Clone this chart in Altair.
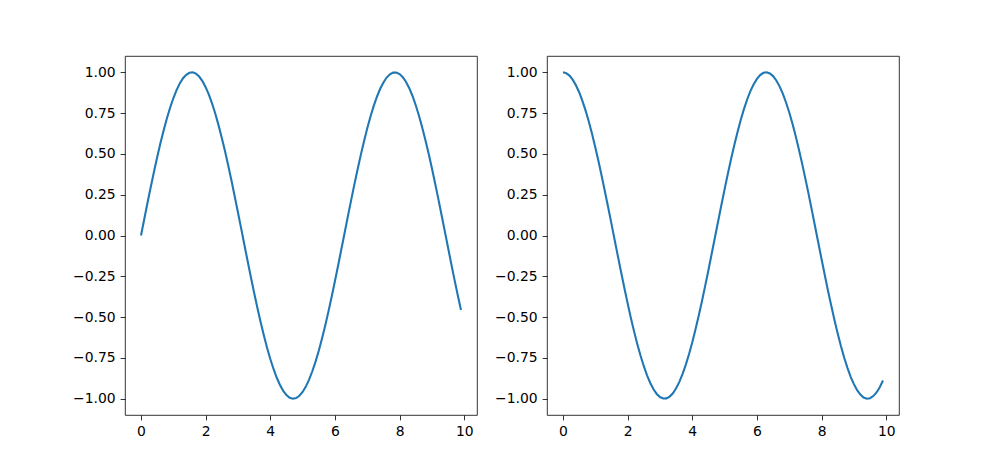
import altair as alt
import pandas as pd

x_vals = [0.0, 0.1, 0.2, 0.3, 0.4, 0.5, 0.6, 0.7, 0.8, 0.9,
          1.0, 1.1, 1.2, 1.3, 1.4, 1.5, 1.6, 1.7, 1.8, 1.9,
          2.0, 2.1, 2.2, 2.3, 2.4, 2.5, 2.6, 2.7, 2.8, 2.9,
          3.0, 3.1, 3.2, 3.3, 3.4, 3.5, 3.6, 3.7, 3.8, 3.9,
          4.0, 4.1, 4.2, 4.3, 4.4, 4.5, 4.6, 4.7, 4.8, 4.9,
          5.0, 5.1, 5.2, 5.3, 5.4, 5.5, 5.6, 5.7, 5.8, 5.9,
          6.0, 6.1, 6.2, 6.3, 6.4, 6.5, 6.6, 6.7, 6.8, 6.9,
          7.0, 7.1, 7.2, 7.3, 7.4, 7.5, 7.6, 7.7, 7.8, 7.9,
          8.0, 8.1, 8.2, 8.3, 8.4, 8.5, 8.6, 8.7, 8.8, 8.9,
          9.0, 9.1, 9.2, 9.3, 9.4, 9.5, 9.6, 9.7, 9.8, 9.9]

left_vals = [0.000, 0.100, 0.199, 0.296, 0.389, 0.479, 0.565, 0.644, 0.717, 0.783,
             0.841, 0.891, 0.932, 0.964, 0.985, 0.997, 1.000, 0.992, 0.974, 0.946,
             0.909, 0.863, 0.808, 0.746, 0.675, 0.598, 0.516, 0.427, 0.335, 0.239,
             0.141, 0.042, -0.058, -0.158, -0.256, -0.351, -0.443, -0.530, -0.612, -0.688,
             -0.757, -0.818, -0.872, -0.916, -0.952, -0.978, -0.994, -1.000, -0.996, -0.982,
             -0.959, -0.926, -0.883, -0.832, -0.773, -0.706, -0.631, -0.551, -0.465, -0.374,
             -0.279, -0.182, -0.083, 0.017, 0.117, 0.215, 0.312, 0.405, 0.494, 0.578,
             0.657, 0.729, 0.794, 0.851, 0.899, 0.938, 0.968, 0.988, 0.998, 0.999,
             0.989, 0.970, 0.941, 0.903, 0.855, 0.798, 0.734, 0.662, 0.584, 0.501,
             0.412, 0.319, 0.223, 0.124, 0.025, -0.075, -0.175, -0.272, -0.366, -0.457]

right_vals = [1.000, 0.995, 0.980, 0.955, 0.921, 0.878, 0.825, 0.765, 0.697, 0.622,
              0.540, 0.454, 0.362, 0.267, 0.170, 0.071, -0.029, -0.129, -0.227, -0.323,
              -0.416, -0.505, -0.589, -0.666, -0.737, -0.801, -0.857, -0.904, -0.942, -0.971,
              -0.990, -0.999, -0.998, -0.987, -0.967, -0.936, -0.897, -0.848, -0.791, -0.726,
              -0.654, -0.575, -0.490, -0.401, -0.307, -0.211, -0.112, -0.012, 0.087, 0.187,
              0.284, 0.378, 0.469, 0.554, 0.635, 0.709, 0.776, 0.835, 0.886, 0.927,
              0.960, 0.983, 0.997, 1.000, 0.993, 0.977, 0.950, 0.914, 0.869, 0.815,
              0.754, 0.685, 0.608, 0.526, 0.439, 0.347, 0.252, 0.154, 0.054, -0.046,
              -0.146, -0.244, -0.340, -0.431, -0.519, -0.602, -0.679, -0.749, -0.811, -0.866,
              -0.911, -0.948, -0.975, -0.993, -1.000, -0.997, -0.984, -0.962, -0.930, -0.889]

x_ticks = [0, 2, 4, 6, 8, 10]
y_ticks = [-1.0, -0.75, -0.5, -0.25, 0.0, 0.25, 0.5, 0.75, 1.0]

LINE_COLOR = "#1f77b4"


def panel(values):
    df = pd.DataFrame({"x": x_vals, "y": values})
    return alt.Chart(df).mark_line(
        color=LINE_COLOR, strokeWidth=2.08, clip=True
    ).encode(
        x=alt.X("x:Q", title=None,
                scale=alt.Scale(domain=[-0.495, 10.395], nice=False, zero=False),
                axis=alt.Axis(values=x_ticks, format="d")),
        y=alt.Y("y:Q", title=None,
                scale=alt.Scale(domain=[-1.1, 1.1], nice=False, zero=False),
                axis=alt.Axis(values=y_ticks, format=".2f")),
    ).properties(width=352, height=359)


chart = alt.hconcat(
    panel(left_vals), panel(right_vals), spacing=70, bounds="flush"
).properties(
    padding={"left": 64, "top": 47, "right": 10, "bottom": 10},
    background="white",
).configure_view(
    stroke="black", strokeWidth=0.8
).configure_axis(
    domain=False, grid=False,
    ticks=True, tickColor="black", tickWidth=0.8, tickSize=4.9,
    labelFont="DejaVu Sans", labelFontSize=13.9, labelColor="black",
    labelPadding=4.9,
)

chart.save("out.html", embed_options={"renderer": "svg", "actions": False})
